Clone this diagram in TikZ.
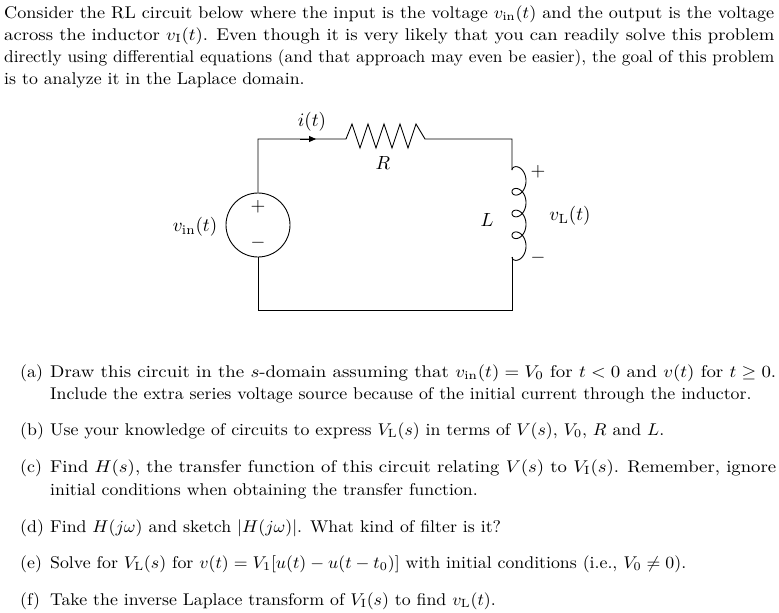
\documentclass[tikz,border=0pt]{standalone}
\usepackage{amsmath,graphicx}
\usetikzlibrary{arrows.meta}
\newcommand{\full}[1]{\resizebox{726pt}{1.7\height}{#1}}
\newcommand{\fullp}[1]{\resizebox{770pt}{1.7\height}{#1}}
\newcommand{\cond}[1]{\scalebox{1.78}[1.7]{#1}}
\newcommand{\lb}[1]{\scalebox{1.9}{#1}}
\begin{document}
\begin{tikzpicture}[x=1pt,y=-1pt,
  txt/.style={anchor=base west,inner sep=0pt},
  lab/.style={inner sep=0pt},
  wire/.style={line width=0.9pt}]
\useasboundingbox (0,0) rectangle (779,613);
% paragraph
\node[txt] (p1) at (4,18) {\fullp{Consider the RL circuit below where the input is the voltage $v_{\text{in}}(t)$ and the output is the voltage}};
\node[txt] (p2) at (4,40) {\fullp{across the inductor $v_{\text{I}}(t)$. Even though it is very likely that you can readily solve this problem}};
\node[txt] (p3) at (4,62) {\fullp{directly using differential equations (and that approach may even be easier), the goal of this problem}};
\node[txt] (p4) at (4,84) {\cond{is to analyze it in the Laplace domain.}};
% circuit
\coordinate (tl) at (258,139);
\coordinate (bl) at (258,310);
\coordinate (tr) at (512,139);
\coordinate (br) at (512,310);
\coordinate (r1) at (346,139);
\coordinate (r2) at (425,139);
\coordinate (l1) at (512,170);
\coordinate (l2) at (512,257);
\node[draw,circle,wire,minimum size=64pt,inner sep=0pt] (src) at (258,225) {};
\draw[wire] (src.north) -- (tl) -- (r1) -- (352,124) -- (360,148) -- (368,124) -- (376,148) -- (384,124) -- (392,148) -- (400,124) -- (408,148) -- (416,124) -- (r2) -- (tr) -- (l1);
\draw[wire] (l2) -- (br) -- (bl) -- (src.south);
\draw[wire,domain=0:1440,samples=240,smooth] plot ({519-7*cos(\x)},{170+87*(\x/1440)-8*sin(\x)});
\draw[-{Triangle[length=7pt,width=6pt]},wire] (300,139) -- (316,139);
\node[lab] (it) at (312,122) {\lb{$i(t)$}};
\node[lab] (R) at (383,163) {\lb{$R$}};
\node[lab] (L) at (487,220) {\lb{$L$}};
\node[lab] (lp) at (538,172) {\lb{$+$}};
\node[lab] (lm) at (538,258) {\lb{$-$}};
\node[lab] (vl) at (570,216) {\lb{$v_{\text{L}}(t)$}};
\node[lab] (vin) at (195,227) {\lb{$v_{\text{in}}(t)$}};
\node[lab] (sp) at (258,207) {\lb{$+$}};
\node[lab] (sm) at (258,243) {\lb{$-$}};
% items
\node[txt] (a) at (20,377) {\cond{(a)}};
\node[txt] (a1) at (50,377) {\full{Draw this circuit in the $s$-domain assuming that $v_{\text{in}}(t)=V_0$ for $t<0$ and $v(t)$ for $t\geq 0$.}};
\node[txt] (a2) at (50,399) {\cond{Include the extra series voltage source because of the initial current through the inductor.}};
\node[txt] (b) at (20,435) {\cond{(b)}};
\node[txt] (b1) at (50,435) {\cond{Use your knowledge of circuits to express $V_{\text{L}}(s)$ in terms of $V(s)$, $V_0$, $R$ and $L$.}};
\node[txt] (c) at (20,472) {\cond{(c)}};
\node[txt] (c1) at (50,472) {\full{Find $H(s)$, the transfer function of this circuit relating $V(s)$ to $V_{\text{I}}(s)$. Remember, ignore}};
\node[txt] (c2) at (50,495) {\cond{initial conditions when obtaining the transfer function.}};
\node[txt] (d) at (20,532) {\cond{(d)}};
\node[txt] (d1) at (50,532) {\cond{Find $H(j\omega)$ and sketch $|H(j\omega)|$. What kind of filter is it?}};
\node[txt] (e) at (20,568) {\cond{(e)}};
\node[txt] (e1) at (50,568) {\cond{Solve for $V_{\text{L}}(s)$ for $v(t)=V_1[u(t)-u(t-t_0)]$ with initial conditions (i.e., $V_0\neq 0$).}};
\node[txt] (f) at (20,605) {\cond{(f)}};
\node[txt] (f1) at (50,605) {\cond{Take the inverse Laplace transform of $V_{\text{I}}(s)$ to find $v_{\text{L}}(t)$.}};
\end{tikzpicture}
\end{document}
